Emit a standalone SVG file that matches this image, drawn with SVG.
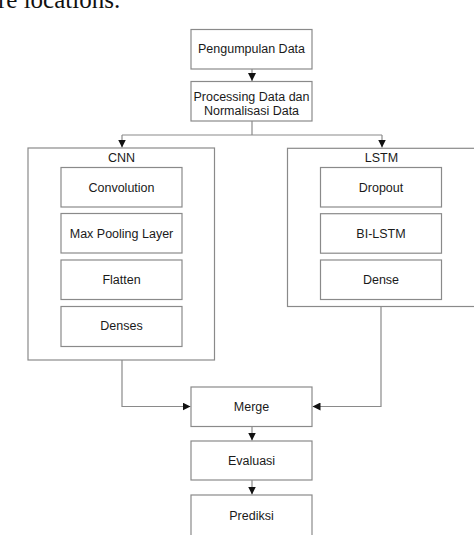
<svg xmlns="http://www.w3.org/2000/svg" width="474" height="535" viewBox="0 0 474 535">
<defs>
<style>
.box{fill:#fff;stroke:#8a8a8a;stroke-width:1.2}
.ln{fill:none;stroke:#8a8a8a;stroke-width:1.2}
.t{font-family:"Liberation Sans",Arial,sans-serif;font-size:12.5px;fill:#1a1a1a;text-anchor:middle}
</style>
<marker id="ah" viewBox="0 0 10 10" refX="10" refY="5" markerWidth="8" markerHeight="8" markerUnits="userSpaceOnUse" orient="auto">
<path d="M0,0 L10,5 L0,10 Z" fill="#111"/>
</marker>
</defs>
<rect width="474" height="535" fill="#fff"/>
<text x="-2" y="8" font-family="'Liberation Serif','Times New Roman',serif" font-size="25" fill="#111">re locations.</text>

<g id="connectors">
<line class="ln" x1="252" y1="69" x2="252" y2="81" marker-end="url(#ah)"/>
<polyline class="ln" points="252,121 252,135"/>
<polyline class="ln" points="122,135 382,135"/>
<line class="ln" x1="122" y1="135" x2="122" y2="147.5" marker-end="url(#ah)"/>
<line class="ln" x1="382" y1="135" x2="382" y2="147.5" marker-end="url(#ah)"/>
<polyline class="ln" points="122,360 122,406.5 190.5,406.5" marker-end="url(#ah)"/>
<polyline class="ln" points="381,306.5 381,406.5 312.5,406.5" marker-end="url(#ah)"/>
<line class="ln" x1="252" y1="426.5" x2="252" y2="440.5" marker-end="url(#ah)"/>
<line class="ln" x1="252" y1="480" x2="252" y2="494.5" marker-end="url(#ah)"/>
</g>

<g id="pengumpulan">
<rect class="box" x="191" y="29.5" width="121" height="39.5"/>
<text class="t" x="251.5" y="53">Pengumpulan Data</text>
</g>
<g id="processing">
<rect class="box" x="191" y="81.5" width="121" height="39.5"/>
<text class="t" x="251.5" y="101">Processing Data dan</text>
<text class="t" x="251.5" y="114.5">Normalisasi Data</text>
</g>

<g id="cnn">
<rect class="box" x="28" y="148" width="186.5" height="212"/>
<text class="t" x="121.5" y="161.5">CNN</text>
</g>
<g id="convolution">
<rect class="box" x="61" y="167.5" width="121" height="39.5"/>
<text class="t" x="121.5" y="191.5">Convolution</text>
</g>
<g id="maxpooling">
<rect class="box" x="61" y="213.5" width="121" height="39.5"/>
<text class="t" x="121.5" y="237.5">Max Pooling Layer</text>
</g>
<g id="flatten">
<rect class="box" x="61" y="260" width="121" height="39.5"/>
<text class="t" x="121.5" y="283.5">Flatten</text>
</g>
<g id="denses">
<rect class="box" x="61" y="306.5" width="121" height="40"/>
<text class="t" x="121.5" y="329.5">Denses</text>
</g>

<g id="lstm">
<rect class="box" x="287.5" y="148.3" width="200" height="158.2"/>
<text class="t" x="381.5" y="161.5">LSTM</text>
</g>
<g id="dropout">
<rect class="box" x="320.5" y="167.5" width="121" height="39.5"/>
<text class="t" x="381" y="191.5">Dropout</text>
</g>
<g id="bilstm">
<rect class="box" x="320.5" y="213.7" width="121" height="39.5"/>
<text class="t" x="381" y="237.5">BI-LSTM</text>
</g>
<g id="dense">
<rect class="box" x="320.5" y="260" width="121" height="39.5"/>
<text class="t" x="381" y="283.5">Dense</text>
</g>

<g id="merge">
<rect class="box" x="191" y="387" width="121" height="39.5"/>
<text class="t" x="251.5" y="410.5">Merge</text>
</g>
<g id="evaluasi">
<rect class="box" x="191" y="441" width="121" height="39"/>
<text class="t" x="251.5" y="464.5">Evaluasi</text>
</g>
<g id="prediksi">
<rect class="box" x="191" y="495" width="121" height="45"/>
<text class="t" x="251.5" y="519.5">Prediksi</text>
</g>
</svg>
